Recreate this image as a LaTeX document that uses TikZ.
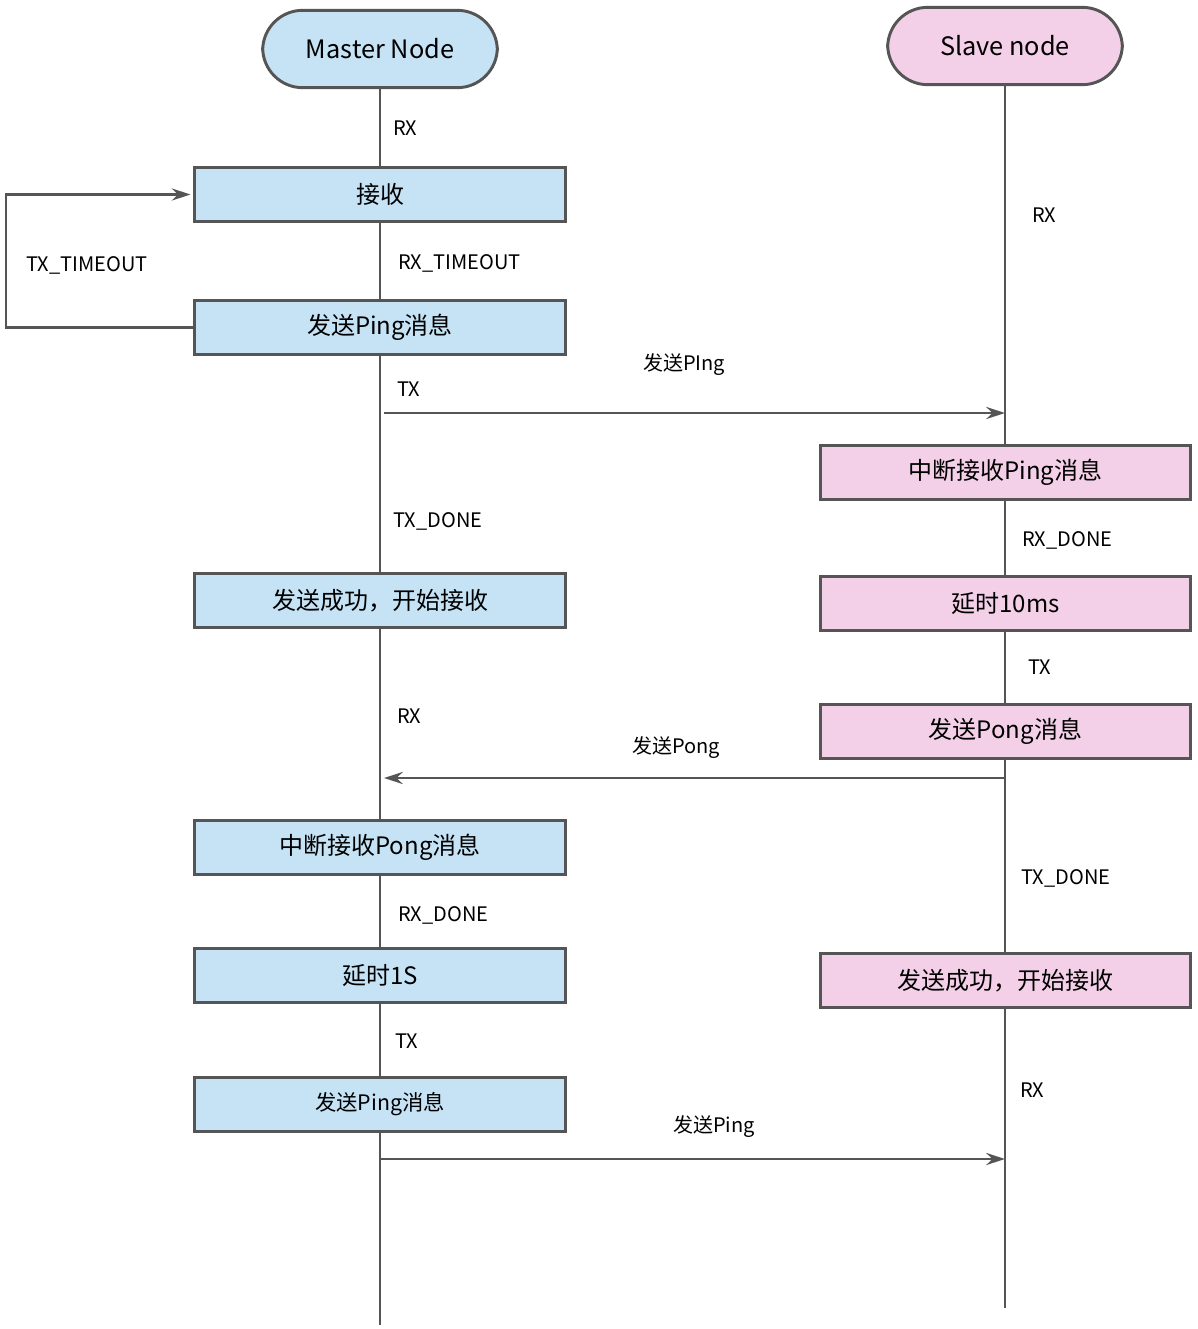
\documentclass[tikz,border=0pt]{standalone}
\usepackage{fontspec}
\setmainfont{Noto Sans CJK SC}
\usetikzlibrary{arrows.meta}
\definecolor{bl}{HTML}{C5E3F5}
\definecolor{pk}{HTML}{F3D0E8}
\definecolor{ln}{HTML}{555555}
\begin{document}
\begin{tikzpicture}[x=0.75pt,y=-0.75pt,
  ln/.style={draw=ln,line width=2.2pt},
  head/.style={ln,rounded corners=30pt,minimum width=235\pgflinewidth,minimum width=176pt,minimum height=58pt,font=\fontsize{19}{22}\selectfont},
  mb/.style={ln,fill=bl,minimum width=278pt,minimum height=40pt,inner sep=0pt,font=\fontsize{18}{21}\selectfont},
  sb/.style={mb,fill=pk},
  lab/.style={anchor=west,inner sep=0pt,font=\fontsize{15}{18}\selectfont},
  arr/.style={ln,-{Stealth[length=14pt,width=9pt]}}]
\useasboundingbox (0,0) rectangle (1197,1329);
\coordinate (mbot) at (380,1325);
\coordinate (sbot) at (1005,1308);
\node[head,fill=bl] (M) at (380,49) {Master Node};
\node[head,fill=pk] (S) at (1005,46) {Slave node};
\draw[ln] (M.south) -- (mbot);
\draw[ln] (S.south) -- (sbot);
\node[mb] (m1) at (380,194.5) {接收};
\node[mb] (m2) at (380,327.5) {发送Ping消息};
\node[mb] (m3) at (380,600.5) {发送成功，开始接收};
\node[mb] (m4) at (380,847.5) {中断接收Pong消息};
\node[mb] (m5) at (380,975.5) {延时1S};
\node[mb,font=\fontsize{16}{19}\selectfont] (m6) at (380,1104.5) {发送Ping消息};
\node[sb] (s1) at (1005.5,472.5) {中断接收Ping消息};
\node[sb] (s2) at (1005.5,603.5) {延时10ms};
\node[sb] (s3) at (1005.5,731.5) {发送Pong消息};
\node[sb] (s4) at (1005.5,980.5) {发送成功，开始接收};
\coordinate (lp1) at (6,327.5);
\coordinate (lp2) at (6,194.5);
\draw[arr,-{Stealth[length=14pt,width=9pt]}] (m2.west) -- (lp1) -- (lp2) -- ([xshift=-2pt]m1.west);
\coordinate (a1s) at (384,413); \coordinate (a1e) at (1005,413);
\coordinate (a2s) at (1005,778); \coordinate (a2e) at (384,778);
\coordinate (a3s) at (380,1159); \coordinate (a3e) at (1005,1159);
\draw[arr] (a1s) -- (a1e);
\draw[arr] (a2s) -- (a2e);
\draw[arr] (a3s) -- (a3e);
\node[lab] (t1) at (393,128) {RX};
\node[lab] (t2) at (398,263) {RX\_TIMEOUT};
\node[lab] (t3) at (26,265) {TX\_TIMEOUT};
\node[lab] (t4) at (397,389) {TX};
\node[lab] (t5) at (643,365) {发送PIng};
\node[lab] (t6) at (393,521) {TX\_DONE};
\node[lab] (t7) at (397,716) {RX};
\node[lab] (t8) at (632,748) {发送Pong};
\node[lab] (t9) at (398,915) {RX\_DONE};
\node[lab] (t10) at (395,1041) {TX};
\node[lab] (t11) at (673,1127) {发送Ping};
\node[lab] (u1) at (1032,215) {RX};
\node[lab] (u2) at (1022,540) {RX\_DONE};
\node[lab] (u3) at (1028,667) {TX};
\node[lab] (u4) at (1021,878) {TX\_DONE};
\node[lab] (u5) at (1020,1090) {RX};
\end{tikzpicture}
\end{document}
